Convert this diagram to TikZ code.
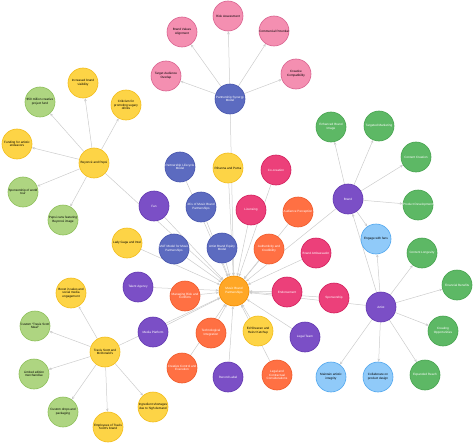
\documentclass[tikz,border=0pt]{standalone}
\usepackage{fontspec}
\setmainfont{Liberation Sans}
\usetikzlibrary{arrows.meta}
\pgfdeclarelayer{bg}
\pgfsetlayers{bg,main}
\definecolor{pinkF}{HTML}{F48FB1}\definecolor{pinkD}{HTML}{D9628F}
\definecolor{blueF}{HTML}{5C6BC0}\definecolor{blueD}{HTML}{4654AC}
\definecolor{purpF}{HTML}{7B4FC6}\definecolor{purpD}{HTML}{6238B0}
\definecolor{yelF}{HTML}{FDD446}\definecolor{yelD}{HTML}{F2BC1B}
\definecolor{lgrF}{HTML}{AED581}\definecolor{lgrD}{HTML}{8DBF5A}
\definecolor{grF}{HTML}{5DB865}\definecolor{grD}{HTML}{47A34F}
\definecolor{magF}{HTML}{EC407A}\definecolor{magD}{HTML}{D21F5D}
\definecolor{oraF}{HTML}{FF7043}\definecolor{oraD}{HTML}{EE5A2A}
\definecolor{cenF}{HTML}{FFA726}\definecolor{cenD}{HTML}{F08C00}
\definecolor{lbF}{HTML}{90CAF9}\definecolor{lbD}{HTML}{4FA6EE}
\begin{document}
\begin{tikzpicture}[x=1pt,y=-1pt,
  bub/.style={circle, minimum size=30pt, inner sep=0pt, line width=0.6pt, align=center,
    font=\fontsize{3.1}{3.7}\selectfont},
  pk/.style={bub, fill=pinkF, draw=pinkD, text=black},
  bl/.style={bub, fill=blueF, draw=blueD, text=white},
  pu/.style={bub, fill=purpF, draw=purpD, text=white},
  ye/.style={bub, fill=yelF, draw=yelD, text=black},
  lg/.style={bub, fill=lgrF, draw=lgrD, text=black},
  gr/.style={bub, fill=grF, draw=grD, text=white},
  mg/.style={bub, fill=magF, draw=magD, text=white},
  or/.style={bub, fill=oraF, draw=oraD, text=white},
  ce/.style={bub, fill=cenF, draw=cenD, text=white},
  lb/.style={bub, fill=lbF, draw=lbD, text=black},
  link/.style={draw=gray!40, line width=0.5pt, -{Stealth[length=3pt,width=2.6pt]}}]
\useasboundingbox (0,0) rectangle (474,444);
% center
\node[ce] (c) at (234,291) {Music Brand\\Partnerships};
% partnership synergy model
\node[bl] (psm) at (230,99) {Partnership Synergy\\Model};
\node[pk] (risk) at (228,16) {Risk Assessment};
\node[pk] (bva) at (182,32) {Brand Values\\Alignment};
\node[pk] (comp) at (274,31) {Commercial Potential};
\node[pk] (tao) at (166,76) {Target Audience\\Overlap};
\node[pk] (cc) at (296,74) {Creative\\Compatibility};
% beyonce
\node[ye] (bey) at (94,163) {Beyoncé and Pepsi};
\node[ye] (ibv) at (83,83) {Increased brand\\visibility};
\node[ye] (crit) at (126,105) {Criticism for\\promoting sugary\\drinks};
\node[lg] (fund50) at (40,102) {\$50 million creative\\project fund};
\node[ye] (fae) at (17,144) {Funding for artistic\\endeavors};
\node[lg] (swt) at (23,192) {Sponsorship of world\\tour};
\node[lg] (pcb) at (63,220) {Pepsi cans featuring\\Beyoncé image};
% models and others
\node[bl] (plm) at (180,167) {Partnership Lifecycle\\Model};
\node[ye] (rih) at (228,168) {Rihanna and Puma};
\node[mg] (cocr) at (276,170) {Co-creation};
\node[pu] (fan) at (154,206) {Fan};
\node[bl] (fourc) at (201,207) {4Cs of Music Brand\\Partnerships};
\node[mg] (lic) at (251,210) {Licensing};
\node[or] (aud) at (298,212) {Audience Perception};
\node[ye] (gaga) at (127,243) {Lady Gaga and Intel};
\node[bl] (mat) at (174,249) {MAT Model for Music\\Partnerships};
\node[bl] (abe) at (222,248) {Artist Brand Equity\\Model};
\node[or] (auth) at (269,249) {Authenticity and\\Credibility};
\node[mg] (amb) at (316,253) {Brand Ambassador};
\node[pu] (tal) at (138,287) {Talent Agency};
\node[or] (risk2) at (185,296) {Managing Risk and\\Conflicts};
\node[mg] (endo) at (287,292) {Endorsement};
\node[mg] (spon) at (334,298) {Sponsorship};
\node[pu] (media) at (153,332) {Media Platform};
\node[or] (tech) at (211,333) {Technological\\Integration};
\node[ye] (ed) at (258,331) {Ed Sheeran and\\Heinz Ketchup};
\node[pu] (legal) at (305,337) {Legal Team};
\node[or] (ctrl) at (182,368) {Creative Control and\\Execution};
\node[pu] (rec) at (228,377) {Record Label};
\node[or] (lcc) at (277,375) {Legal and\\Contractual\\Considerations};
% travis
\node[ye] (trav) at (105,352) {Travis Scott and\\McDonald's};
\node[ye] (boost) at (71,293) {Boost in sales and\\social media\\engagement};
\node[lg] (meal) at (35,326) {Custom ``Travis Scott\\Meal''};
\node[lg] (lim) at (34,374) {Limited edition\\merchandise};
\node[lg] (drops) at (63,412) {Custom drops and\\packaging};
\node[ye] (empl) at (108,427) {Employees of Travis\\Scott's brand};
\node[ye] (ingr) at (153,407) {Ingredient shortages\\due to high demand};
% brand and artist
\node[pu] (brand) at (348,199) {Brand};
\node[gr] (ebi) at (331,127) {Enhanced Brand\\Image};
\node[gr] (tm) at (379,126) {Targeted Marketing};
\node[gr] (ccr) at (416,157) {Content Creation};
\node[gr] (pd) at (418,205) {Product Development};
\node[lb] (eng) at (376,239) {Engage with fans};
\node[gr] (cl) at (422,253) {Content Longevity};
\node[gr] (fb) at (457,285) {Financial Benefits};
\node[pu] (art) at (381,307) {Artist};
\node[gr] (co) at (443,331) {Creating\\Opportunities};
\node[lb] (mai) at (331,377) {Maintain artistic\\integrity};
\node[lb] (col) at (378,377) {Collaborate on\\product design};
\node[gr] (er) at (425,375) {Expanded Reach};
\begin{pgfonlayer}{bg}
\foreach \n in {psm,rih,cocr,plm,fourc,lic,aud,fan,bey,mat,abe,auth,amb,brand,gaga,tal,risk2,endo,spon,art,media,trav,tech,ctrl,rec,ed,lcc,legal}
  \draw[link] (\n) -- (c);
\foreach \n in {risk,bva,comp,tao,cc} \draw[link] (psm) -- (\n);
\foreach \n in {ibv,crit,fund50,fae,swt,pcb} \draw[link] (bey) -- (\n);
\foreach \n in {boost,meal,lim,drops,empl,ingr} \draw[link] (trav) -- (\n);
\foreach \n in {ebi,tm,ccr,pd,eng} \draw[link] (brand) -- (\n);
\foreach \n in {brand,eng,cl,fb,co,er,mai,col} \draw[link] (art) -- (\n);
\end{pgfonlayer}
\end{tikzpicture}
\end{document}
